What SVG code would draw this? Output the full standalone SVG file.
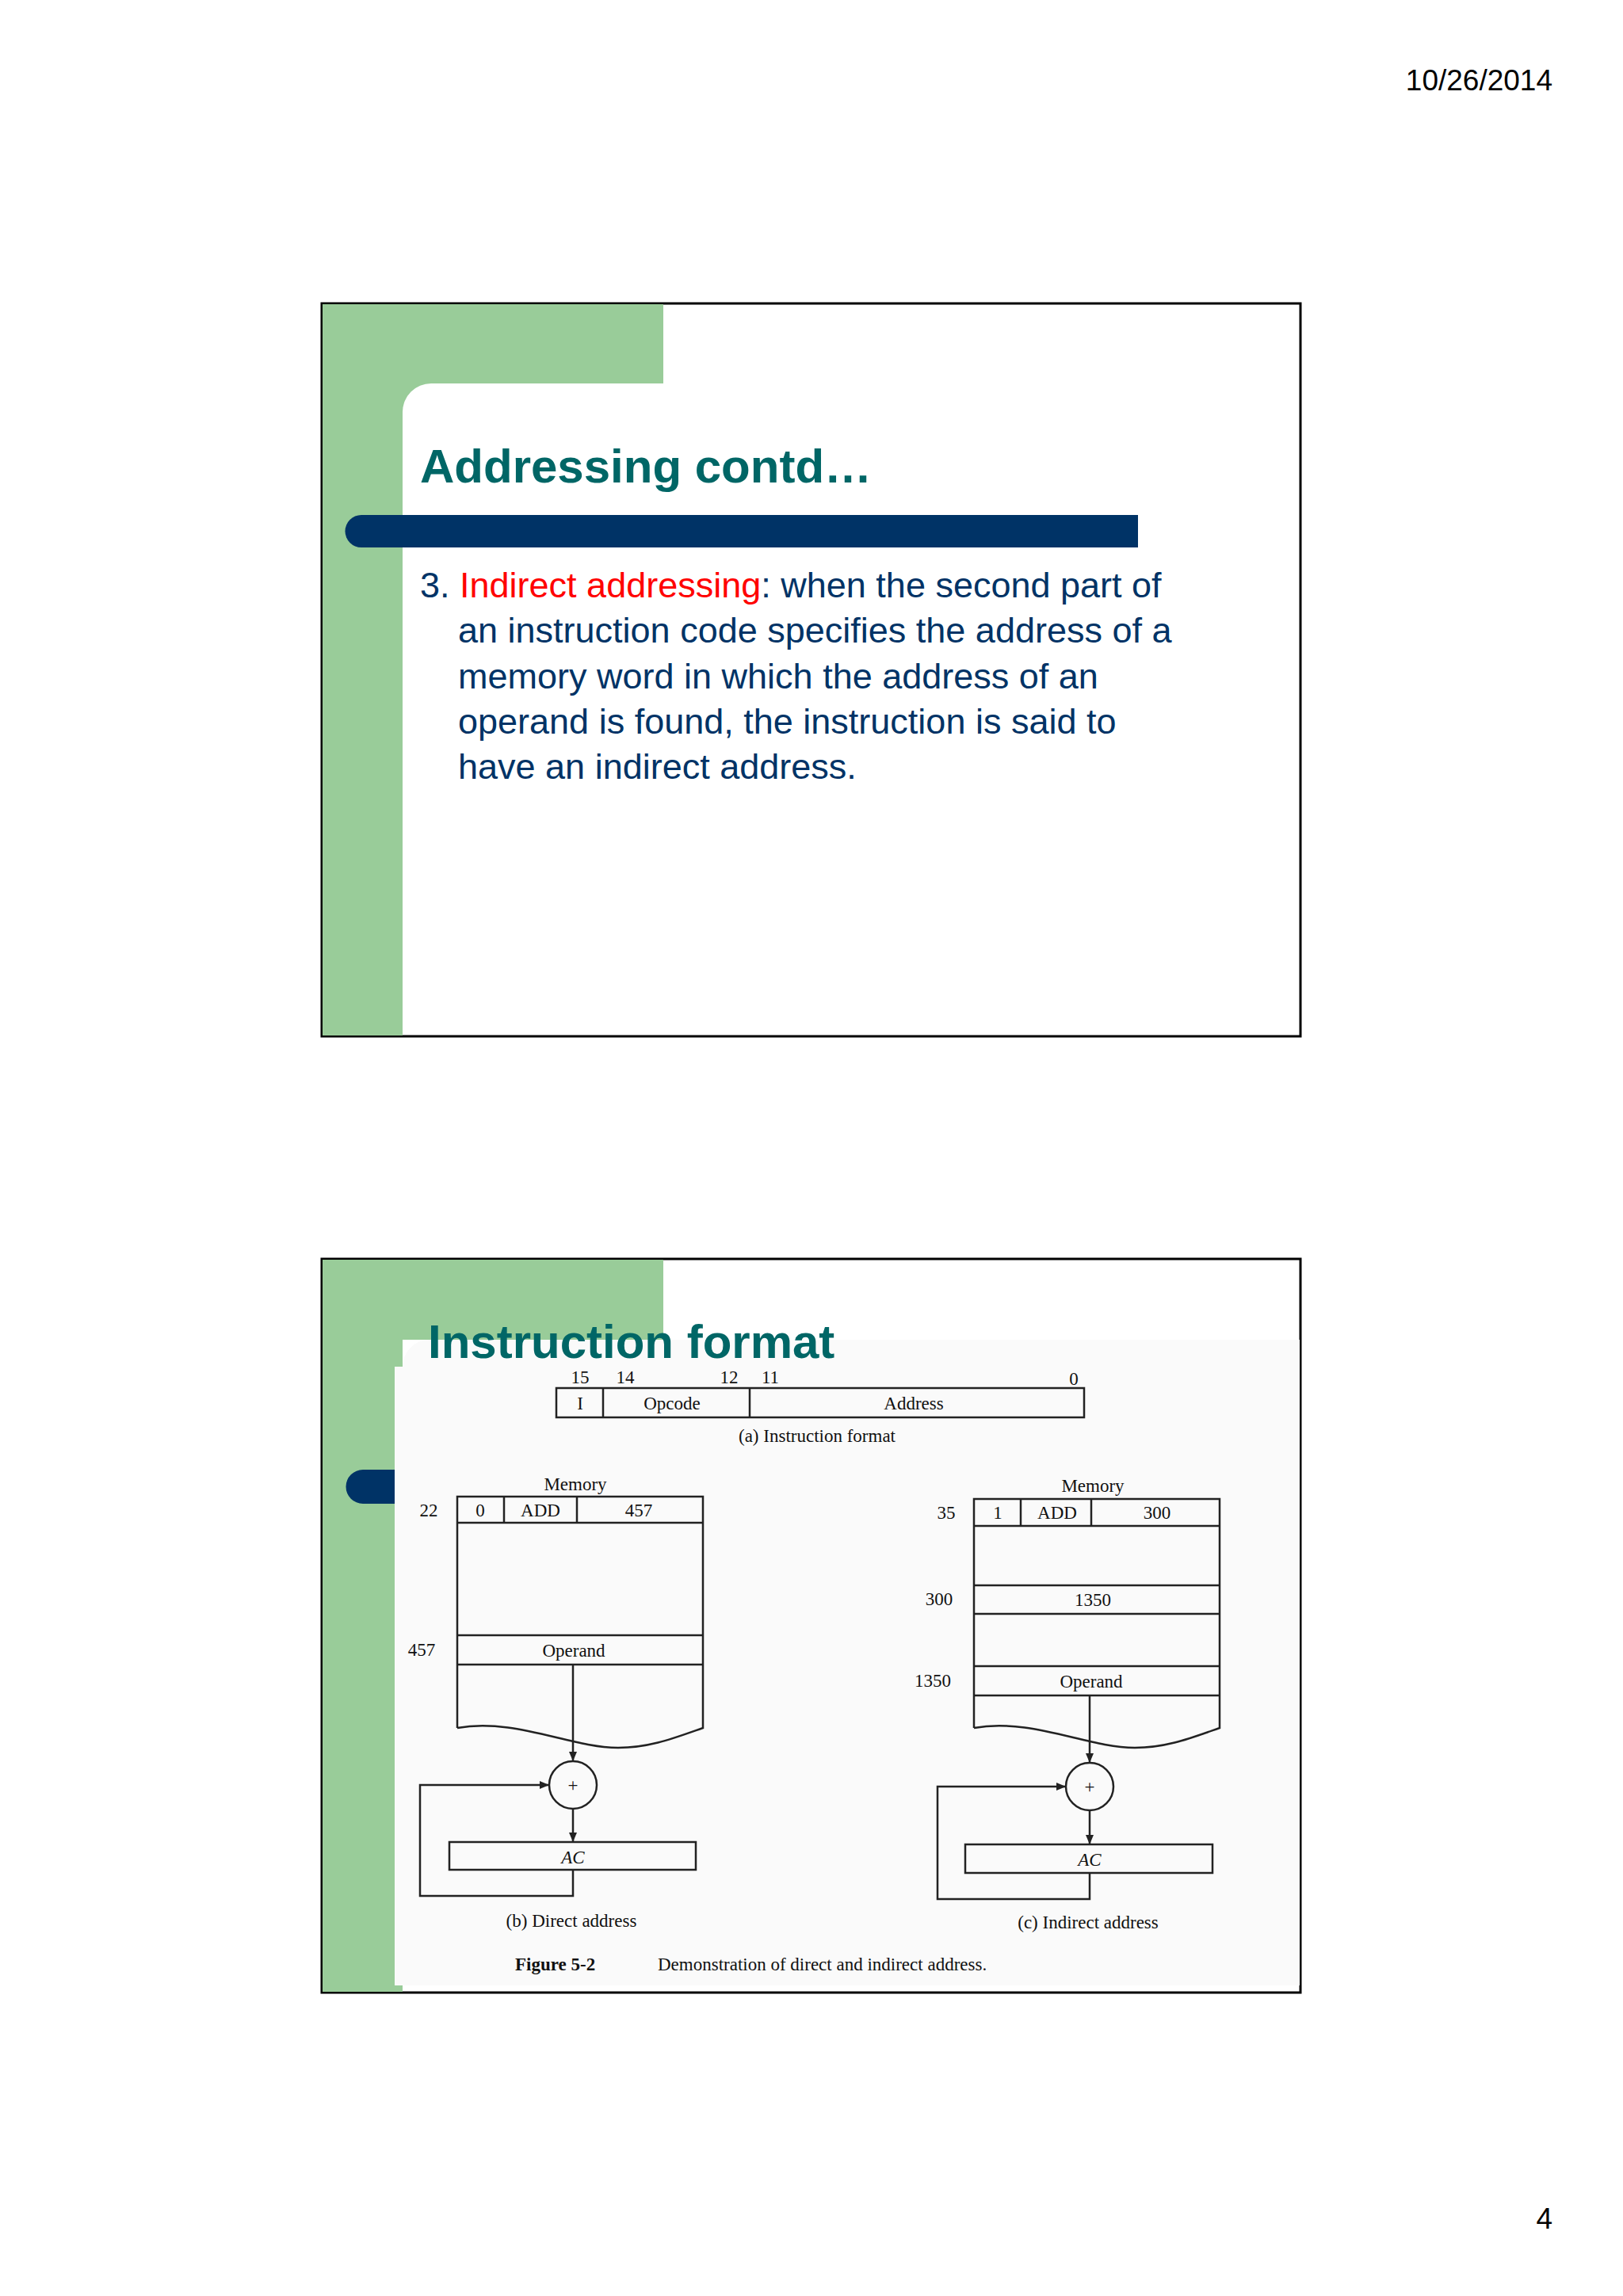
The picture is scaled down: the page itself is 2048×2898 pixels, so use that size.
<svg xmlns="http://www.w3.org/2000/svg" width="2048" height="2898" viewBox="0 0 2048 2898">
<style>
.frame{fill:#fff;stroke:#000;stroke-width:3}
.green{fill:#99cc99}
.title{font-family:"Liberation Sans",Arial,sans-serif;font-weight:bold;font-size:60px;fill:#006666}
.body{font-family:"Liberation Sans",Arial,sans-serif;font-size:45px;fill:#003366}
.red{fill:#ff0000}
.hdr{font-family:"Liberation Sans",Arial,sans-serif;font-size:37px;fill:#000}
.fig{font-family:"Liberation Serif","Times New Roman",serif;font-size:23px;fill:#111}
.cell{fill:none;stroke:#222;stroke-width:2.5}
.ln{fill:none;stroke:#222;stroke-width:2.5}
</style>
<defs>
<marker id="ah" markerWidth="12" markerHeight="10" refX="11" refY="5" orient="auto" markerUnits="userSpaceOnUse">
<path d="M0,0 L12,5 L0,10 Z" fill="#222"/>
</marker>
</defs>
<rect width="2048" height="2898" fill="#fff"/>
<text class="hdr" x="1959" y="114" text-anchor="end">10/26/2014</text>
<text class="hdr" x="1959" y="2813" text-anchor="end">4</text>

<g id="slide1">
<rect class="frame" x="406" y="383" width="1235" height="925"/>
<rect class="green" x="407" y="384" width="430" height="100"/>
<rect class="green" x="407" y="384" width="101" height="923"/>
<path d="M508,1307 V522 A38,38 0 0 1 546,484 H837 V484 H546 Z" fill="#fff"/>
<rect x="508" y="484" width="40" height="40" fill="#fff"/>
<path d="M508,524 A40,40 0 0 1 548,484 L548,524 Z" fill="#fff"/>
<path d="M508,520 L508,484 L544,484 A36,36 0 0 0 508,520 Z" class="green"/>
<text class="title" x="530" y="609">Addressing contd…</text>
<path d="M456,650 H1436 V691 H456 A20.5,20.5 0 0 1 456,650 Z" fill="#003366"/>
<text class="body" x="530" y="754">3. <tspan class="red">Indirect addressing</tspan>: when the second part of</text>
<text class="body" x="578" y="811">an instruction code specifies the address of a</text>
<text class="body" x="578" y="869">memory word in which the address of an</text>
<text class="body" x="578" y="926">operand is found, the instruction is said to</text>
<text class="body" x="578" y="983">have an indirect address.</text>
</g>

<g id="slide2">
<rect class="frame" x="406" y="1589" width="1235" height="926"/>
<rect class="green" x="407" y="1590" width="430" height="101"/>
<rect class="green" x="407" y="1590" width="101" height="924"/>
<path d="M436,1855 H510 V1898 H458 A21.5,21.5 0 0 1 458,1855 Z" fill="#003366"/>
<path d="M498,2506 V1725 H508 A34,34 0 0 1 542,1691 H1640 V2506 Z" fill="#fafafa"/>
<text class="title" x="540" y="1714">Instruction format</text>
</g>

<g id="instr-format">
<rect class="cell" x="702" y="1752" width="666" height="37"/>
<line class="ln" x1="761" y1="1752" x2="761" y2="1789"/>
<line class="ln" x1="946" y1="1752" x2="946" y2="1789"/>
<text class="fig" x="732" y="1779" text-anchor="middle">I</text>
<text class="fig" x="848" y="1779" text-anchor="middle">Opcode</text>
<text class="fig" x="1153" y="1779" text-anchor="middle">Address</text>
<text class="fig" x="732" y="1746" text-anchor="middle">15</text>
<text class="fig" x="789" y="1746" text-anchor="middle">14</text>
<text class="fig" x="920" y="1746" text-anchor="middle">12</text>
<text class="fig" x="972" y="1746" text-anchor="middle">11</text>
<text class="fig" x="1355" y="1748" text-anchor="middle">0</text>
<text class="fig" x="1031" y="1820" text-anchor="middle">(a) Instruction format</text>
</g>

<g id="mem-direct">
<text class="fig" x="726" y="1881" text-anchor="middle">Memory</text>
<path class="ln" d="M577,2181 V1889 H887 V2181 C850,2194 820,2206 780,2206 C720,2206 650,2168 577,2181"/>
<line class="ln" x1="577" y1="1922" x2="887" y2="1922"/>
<line class="ln" x1="636" y1="1889" x2="636" y2="1922"/>
<line class="ln" x1="728" y1="1889" x2="728" y2="1922"/>
<text class="fig" x="541" y="1914" text-anchor="middle">22</text>
<text class="fig" x="606" y="1914" text-anchor="middle">0</text>
<text class="fig" x="682" y="1914" text-anchor="middle">ADD</text>
<text class="fig" x="806" y="1914" text-anchor="middle">457</text>
<line class="ln" x1="577" y1="2064" x2="887" y2="2064"/>
<line class="ln" x1="577" y1="2101" x2="887" y2="2101"/>
<text class="fig" x="532" y="2090" text-anchor="middle">457</text>
<text class="fig" x="724" y="2091" text-anchor="middle">Operand</text>
</g>
<g id="adder-b"><circle class="ln" cx="723" cy="2253" r="30" fill="#fafafa"/><text class="fig" x="723" y="2261" text-anchor="middle">+</text></g>
<g id="ac-b"><rect class="cell" x="567" y="2325" width="311" height="35"/><text class="fig" x="723" y="2352" text-anchor="middle" font-style="italic">AC</text></g>
<text class="fig" x="721" y="2432" text-anchor="middle">(b) Direct address</text>

<g id="mem-indirect">
<text class="fig" x="1379" y="1883" text-anchor="middle">Memory</text>
<path class="ln" d="M1229,2181 V1892 H1539 V2181 C1502,2194 1472,2206 1432,2206 C1372,2206 1302,2168 1229,2181"/>
<line class="ln" x1="1229" y1="1926" x2="1539" y2="1926"/>
<line class="ln" x1="1288" y1="1892" x2="1288" y2="1926"/>
<line class="ln" x1="1377" y1="1892" x2="1377" y2="1926"/>
<text class="fig" x="1194" y="1917" text-anchor="middle">35</text>
<text class="fig" x="1259" y="1917" text-anchor="middle">1</text>
<text class="fig" x="1334" y="1917" text-anchor="middle">ADD</text>
<text class="fig" x="1460" y="1917" text-anchor="middle">300</text>
<line class="ln" x1="1229" y1="2001" x2="1539" y2="2001"/>
<line class="ln" x1="1229" y1="2037" x2="1539" y2="2037"/>
<text class="fig" x="1185" y="2026" text-anchor="middle">300</text>
<text class="fig" x="1379" y="2027" text-anchor="middle">1350</text>
<line class="ln" x1="1229" y1="2103" x2="1539" y2="2103"/>
<line class="ln" x1="1229" y1="2140" x2="1539" y2="2140"/>
<text class="fig" x="1177" y="2129" text-anchor="middle">1350</text>
<text class="fig" x="1377" y="2130" text-anchor="middle">Operand</text>
</g>
<g id="adder-c"><circle class="ln" cx="1375" cy="2255" r="30" fill="#fafafa"/><text class="fig" x="1375" y="2263" text-anchor="middle">+</text></g>
<g id="ac-c"><rect class="cell" x="1218" y="2328" width="312" height="36"/><text class="fig" x="1375" y="2355" text-anchor="middle" font-style="italic">AC</text></g>
<text class="fig" x="1373" y="2434" text-anchor="middle">(c) Indirect address</text>

<text class="fig" x="650" y="2487" font-weight="bold">Figure 5-2</text>
<text class="fig" x="830" y="2487">Demonstration of direct and indirect address.</text>

<g id="connectors">
<line class="ln" x1="723" y1="2101" x2="723" y2="2222" marker-end="url(#ah)"/>
<line class="ln" x1="723" y1="2283" x2="723" y2="2324" marker-end="url(#ah)"/>
<path class="ln" d="M723,2360 V2393 H530 V2253 H692" marker-end="url(#ah)"/>
<line class="ln" x1="1375" y1="2140" x2="1375" y2="2224" marker-end="url(#ah)"/>
<line class="ln" x1="1375" y1="2285" x2="1375" y2="2327" marker-end="url(#ah)"/>
<path class="ln" d="M1375,2364 V2397 H1183 V2255 H1344" marker-end="url(#ah)"/>
</g>
</svg>
